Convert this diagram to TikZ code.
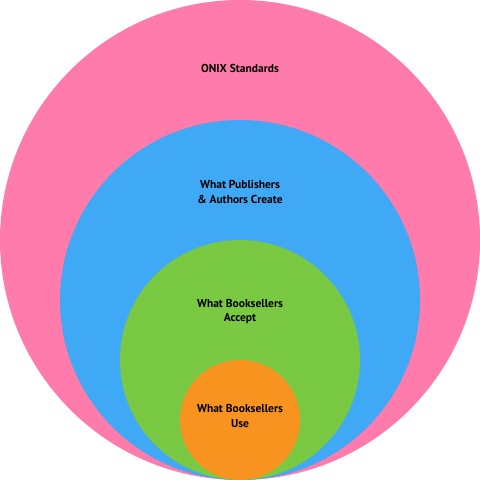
\documentclass[tikz,border=0pt]{standalone}
\usepackage{fontspec}
\setmainfont{PT Sans}
\definecolor{onixpink}{HTML}{FF7BAC}
\definecolor{pubblue}{HTML}{3FA9F5}
\definecolor{accgreen}{HTML}{7AC943}
\definecolor{useorange}{HTML}{F7931E}
\begin{document}
\begin{tikzpicture}[x=1pt,y=-1pt,
  lbl/.style={font=\fontsize{11.5}{14.5}\selectfont\bfseries, align=center, text=black, inner sep=0pt}]
\useasboundingbox (0,0) rectangle (480,480);
\fill[onixpink] (240,240) circle[radius=240];
\fill[pubblue] (240,300) circle[radius=180];
\fill[accgreen] (240,360) circle[radius=120];
\fill[useorange] (240,420) circle[radius=60];
\node[lbl] (onix) at (240,68.5) {ONIX Standards};
\node[lbl] (pub) at (240,192) {What Publishers\\\& Authors Create};
\node[lbl] (acc) at (240,311.5) {What Booksellers\\Accept};
\node[lbl] (use) at (240,416) {What Booksellers\\Use};
\end{tikzpicture}
\end{document}
